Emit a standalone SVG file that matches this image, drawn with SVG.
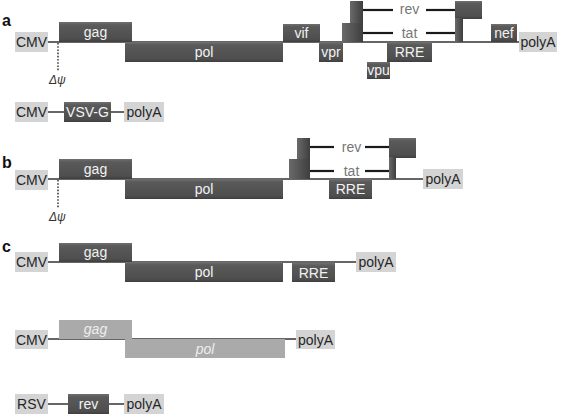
<svg xmlns="http://www.w3.org/2000/svg" width="562" height="415" viewBox="0 0 562 415">
<defs>
<linearGradient id="dk" x1="0" y1="0" x2="0" y2="1">
<stop offset="0" stop-color="#707070"/>
<stop offset="0.15" stop-color="#5a5a5a"/>
<stop offset="0.85" stop-color="#4e4e4e"/>
<stop offset="1" stop-color="#3e3e3e"/>
</linearGradient>
<linearGradient id="dkh" x1="0" y1="0" x2="1" y2="0">
<stop offset="0" stop-color="#6a6a6a"/>
<stop offset="0.5" stop-color="#545454"/>
<stop offset="1" stop-color="#3e3e3e"/>
</linearGradient>
</defs>
<style>
.lt{fill:#d4d4d4}
.dk{fill:url(#dk)}
.dkh{fill:url(#dkh)}
.lg{fill:#aaaaaa}
.t{font-family:"Liberation Sans",Arial,sans-serif;font-size:14px;text-anchor:middle}
.tb{fill:#262626}
.tw{fill:#f2f2f2}
.tg{fill:#777777}
.ti{fill:#eeeeee;font-style:italic}
.lab{font-family:"Liberation Sans",Arial,sans-serif;font-size:16px;font-weight:bold;fill:#111}
.psi{font-family:"Liberation Sans",Arial,sans-serif;font-size:12px;font-style:italic;fill:#333}
.ln{stroke:#333;stroke-width:1.5;fill:none}
.sl{stroke:#1a1a1a;stroke-width:2.2;fill:none}
.dot{stroke:#444;stroke-width:1.6;stroke-dasharray:1.6 1.6;fill:none}
</style>
<rect width="562" height="415" fill="#ffffff"/>

<g id="connectors">
<!-- panel a -->
<line class="ln" x1="48" y1="42" x2="519" y2="42"/>
<line class="dot" x1="58" y1="43" x2="58" y2="71"/>
<line class="sl" x1="363" y1="10" x2="393" y2="10"/>
<line class="sl" x1="426" y1="10" x2="455" y2="10"/>
<line class="sl" x1="363" y1="33" x2="393" y2="33"/>
<line class="sl" x1="426" y1="33" x2="455" y2="33"/>
<line class="ln" x1="48" y1="112" x2="124" y2="112"/>
<!-- panel b -->
<line class="ln" x1="48" y1="179" x2="423" y2="179"/>
<line class="dot" x1="58" y1="180" x2="58" y2="208"/>
<line class="sl" x1="310" y1="147" x2="334" y2="147"/>
<line class="sl" x1="365" y1="147" x2="389" y2="147"/>
<line class="sl" x1="310" y1="171" x2="334" y2="171"/>
<line class="sl" x1="365" y1="171" x2="389" y2="171"/>
<!-- panel c -->
<line class="ln" x1="48" y1="262" x2="356" y2="262"/>
<line class="ln" x1="48" y1="339" x2="296" y2="339"/>
<line class="ln" x1="48" y1="404" x2="124" y2="404"/>
</g>

<!-- labels -->
<text class="lab" x="2" y="26">a</text>
<text class="lab" x="2" y="168">b</text>
<text class="lab" x="2" y="252">c</text>

<!-- ===== Panel a ===== -->
<g id="a-cmv"><rect class="lt" x="15" y="32" width="33" height="20"/><text class="t tb" x="31.5" y="47">CMV</text></g>
<g id="a-gag"><rect class="dk" x="59" y="22" width="73" height="20"/><text class="t tw" x="95.5" y="36.5">gag</text></g>
<g id="a-pol"><rect class="dk" x="125" y="42" width="158" height="20"/><text class="t tw" x="204" y="57">pol</text></g>
<g id="a-vif"><rect class="dk" x="283" y="24" width="37" height="18"/><text class="t tw" x="301.5" y="38">vif</text></g>
<g id="a-vpr"><rect class="dk" x="319" y="42" width="24" height="20"/><text class="t tw" x="331" y="56.5">vpr</text></g>
<g id="a-rev1"><rect class="dkh" x="350" y="1" width="13" height="23"/></g>
<g id="a-tat1"><rect class="dkh" x="342" y="23" width="21" height="19"/></g>
<g id="a-rev2"><rect class="dk" x="455" y="1" width="27" height="18"/></g>
<g id="a-tat2"><rect class="dkh" x="455" y="18" width="8" height="24"/></g>
<g id="a-revlabel"><text class="t tg" x="409.5" y="14">rev</text></g>
<g id="a-tatlabel"><text class="t tg" x="409.5" y="37.5">tat</text></g>
<g id="a-rre"><rect class="dk" x="387" y="42" width="45" height="20"/><text class="t tw" x="409.5" y="57">RRE</text></g>
<g id="a-vpu"><rect class="dk" x="367" y="62" width="23" height="17"/><text class="t tw" x="378.5" y="75">vpu</text></g>
<g id="a-nef"><rect class="dk" x="491" y="24" width="26" height="18"/><text class="t tw" x="504" y="37.5">nef</text></g>
<g id="a-polyA"><rect class="lt" x="519" y="32" width="38" height="20"/><text class="t tb" x="538" y="47">polyA</text></g>
<g id="a-psi"><text class="psi" x="49" y="84">Δψ</text></g>

<g id="a2-cmv"><rect class="lt" x="15" y="102" width="33" height="20"/><text class="t tb" x="31.5" y="117">CMV</text></g>
<g id="a2-vsvg"><rect class="dk" x="64" y="102" width="47" height="20"/><text class="t tw" x="87.5" y="117">VSV-G</text></g>
<g id="a2-polyA"><rect class="lt" x="124" y="102" width="40" height="20"/><text class="t tb" x="144" y="117">polyA</text></g>

<!-- ===== Panel b ===== -->
<g id="b-cmv"><rect class="lt" x="15" y="170" width="33" height="20"/><text class="t tb" x="31.5" y="185">CMV</text></g>
<g id="b-gag"><rect class="dk" x="59" y="159" width="73" height="20"/><text class="t tw" x="95.5" y="173.5">gag</text></g>
<g id="b-pol"><rect class="dk" x="125" y="179" width="158" height="20"/><text class="t tw" x="204" y="194">pol</text></g>
<g id="b-rev1"><rect class="dkh" x="297" y="138" width="13" height="22"/></g>
<g id="b-tat1"><rect class="dkh" x="289" y="159" width="21" height="20"/></g>
<g id="b-rev2"><rect class="dk" x="389" y="138" width="27" height="20"/></g>
<g id="b-tat2"><rect class="dkh" x="389" y="157" width="7" height="22"/></g>
<g id="b-revlabel"><text class="t tg" x="351.5" y="151.5">rev</text></g>
<g id="b-tatlabel"><text class="t tg" x="351.5" y="175.5">tat</text></g>
<g id="b-rre"><rect class="dk" x="329" y="179" width="43" height="20"/><text class="t tw" x="350.5" y="194">RRE</text></g>
<g id="b-polyA"><rect class="lt" x="423" y="169" width="40" height="20"/><text class="t tb" x="443" y="184">polyA</text></g>
<g id="b-psi"><text class="psi" x="49" y="221">Δψ</text></g>

<!-- ===== Panel c ===== -->
<g id="c1-cmv"><rect class="lt" x="15" y="252" width="33" height="20"/><text class="t tb" x="31.5" y="267">CMV</text></g>
<g id="c1-gag"><rect class="dk" x="59" y="243" width="73" height="19"/><text class="t tw" x="95.5" y="257">gag</text></g>
<g id="c1-pol"><rect class="dk" x="125" y="262" width="158" height="20"/><text class="t tw" x="204" y="277">pol</text></g>
<g id="c1-rre"><rect class="dk" x="292" y="263" width="43" height="19"/><text class="t tw" x="313.5" y="277.5">RRE</text></g>
<g id="c1-polyA"><rect class="lt" x="356" y="252" width="40" height="20"/><text class="t tb" x="376" y="267">polyA</text></g>

<g id="c2-cmv"><rect class="lt" x="15" y="330" width="33" height="19"/><text class="t tb" x="31.5" y="344.5">CMV</text></g>
<g id="c2-gag"><rect class="lg" x="59" y="320" width="73" height="19"/><text class="t ti" x="95.5" y="334">gag</text></g>
<g id="c2-pol"><rect class="lg" x="125" y="339" width="160" height="19"/><text class="t ti" x="205" y="353.5">pol</text></g>
<g id="c2-polyA"><rect class="lt" x="296" y="330" width="39" height="19"/><text class="t tb" x="315.5" y="344.5">polyA</text></g>

<g id="c3-rsv"><rect class="lt" x="15" y="394" width="33" height="20"/><text class="t tb" x="31.5" y="409">RSV</text></g>
<g id="c3-rev"><rect class="dk" x="68" y="394" width="41" height="20"/><text class="t tw" x="88.5" y="409">rev</text></g>
<g id="c3-polyA"><rect class="lt" x="124" y="394" width="40" height="20"/><text class="t tb" x="144" y="409">polyA</text></g>
</svg>
